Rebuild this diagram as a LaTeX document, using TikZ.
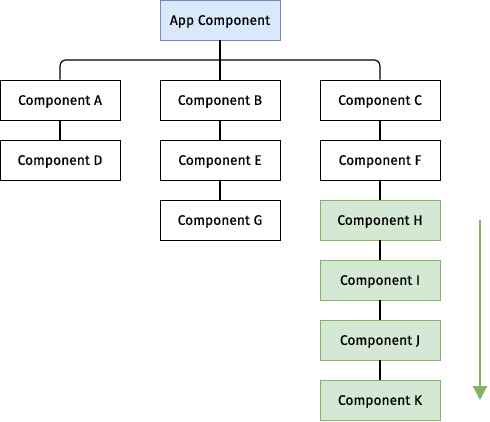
\documentclass[tikz,border=0pt]{standalone}
\usepackage{fontspec}
\setmainfont{Fira Sans}
\newfontfamily\compfont{Fira Sans}[FakeBold=0.45]
\usetikzlibrary{arrows.meta}
\definecolor{bluefill}{HTML}{DAE8FC}
\definecolor{bluedraw}{HTML}{6C8EBF}
\definecolor{greenfill}{HTML}{D5E8D4}
\definecolor{greendraw}{HTML}{82B366}
\tikzset{
  comp/.style={draw=black, line width=0.8pt, minimum width=120pt, minimum height=40pt, inner sep=0pt, text depth=0pt, font=\compfont\fontsize{13.8}{15}\selectfont},
  appbox/.style={comp, draw=bluedraw, fill=bluefill},
  greenbox/.style={comp, draw=greendraw, fill=greenfill},
  link/.style={draw=black, line width=1.2pt},
  flow/.style={draw=greendraw, line width=2pt, -{Triangle[length=14pt,width=14pt]}}
}
\begin{document}
\begin{tikzpicture}[x=1pt,y=-1pt]
\useasboundingbox (0,0) rectangle (490,421);
\node[appbox] (app) at (220,20) {App Component};
\node[comp] (a) at (60,100) {Component A};
\node[comp] (b) at (220,100) {Component B};
\node[comp] (c) at (380,100) {Component C};
\node[comp] (d) at (60,160) {Component D};
\node[comp] (e) at (220,160) {Component E};
\node[comp] (f) at (380,160) {Component F};
\node[comp] (g) at (220,220) {Component G};
\node[greenbox] (h) at (380,220) {Component H};
\node[greenbox] (i) at (380,280) {Component I};
\node[greenbox] (j) at (380,340) {Component J};
\node[greenbox] (k) at (380,400) {Component K};
\coordinate (bus) at (220,60);
\coordinate (s) at (480,220);
\coordinate (t) at (480,400);
\draw[link] (app.south) -- (b.north);
\draw[link, rounded corners=6pt] (a.north) |- (bus) -| (c.north);
\draw[link] (a) -- (d);
\draw[link] (b) -- (e);
\draw[link] (e) -- (g);
\draw[link] (c) -- (f);
\draw[link] (f) -- (h);
\draw[link] (h) -- (i);
\draw[link] (i) -- (j);
\draw[link] (j) -- (k);
\draw[flow] (s) -- (t);
\end{tikzpicture}
\end{document}
